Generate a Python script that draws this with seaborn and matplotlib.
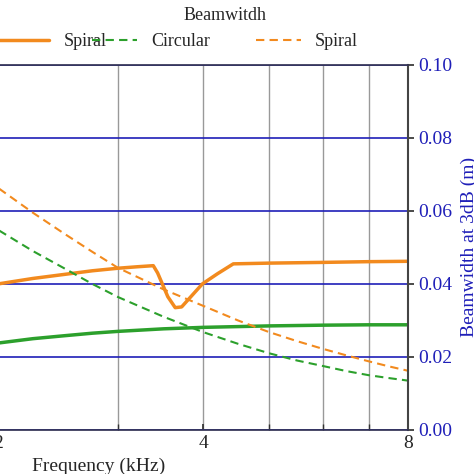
import numpy as np
import pandas as pd
import matplotlib
matplotlib.use("Agg")
import matplotlib.pyplot as plt
from matplotlib.lines import Line2D
from matplotlib.ticker import FixedLocator, NullFormatter
import seaborn as sns

sns.set_theme(style="white")
plt.rcParams['font.family'] = ['Liberation Serif', 'DejaVu Serif']

# range curves (shown in beamwidth-axis units)
range_spiral_f = [2.0, 2.25, 2.5, 2.75, 3.0, 3.2, 3.38, 3.43, 3.55, 3.64, 3.72, 3.99, 4.2, 4.43, 5.0, 6.0, 7.0, 8.0]
range_spiral_v = [0.040, 0.0415, 0.0426, 0.0436, 0.0443, 0.0447, 0.0450, 0.0430, 0.0365, 0.0335, 0.0337, 0.0400, 0.0428, 0.0455, 0.0457, 0.0459, 0.0461, 0.0462]
range_circ_f = [2.0, 2.25, 2.5, 2.75, 3.0, 3.5, 4.0, 5.0, 6.0, 7.0, 8.0]
range_circ_v = [0.0238, 0.0250, 0.0258, 0.0265, 0.0270, 0.0277, 0.0281, 0.0285, 0.0287, 0.0288, 0.0288]

# beamwidth curves
bw_f = [2.0, 2.25, 2.5, 2.75, 3.0, 3.5, 4.0, 4.5, 5.0, 5.5, 6.0, 6.5, 7.0, 7.5, 8.0]
bw_circ = [0.0548, 0.0490, 0.0443, 0.0400, 0.0364, 0.0310, 0.0268, 0.0236, 0.0210, 0.0190, 0.0175, 0.0161, 0.0150, 0.0142, 0.0135]
bw_spiral = [0.0663, 0.0595, 0.0538, 0.0488, 0.0444, 0.0385, 0.0340, 0.0300, 0.0268, 0.0243, 0.0222, 0.0204, 0.0188, 0.0174, 0.0162]

orange = "#f28a1e"
green = "#2ca02c"
blue = "#1f1fb8"

fig = plt.figure(figsize=(4.74, 4.74), dpi=100)
ax = fig.add_axes([-0.004, 0.093, 0.865, 0.77])

sns.lineplot(x=range_circ_f, y=range_circ_v, ax=ax, color=green, lw=2.5)
sns.lineplot(x=range_spiral_f, y=range_spiral_v, ax=ax, color=orange, lw=2.5)
sns.lineplot(x=bw_f, y=bw_circ, ax=ax, color=green, lw=1.5, linestyle=(0, (4, 2.5)))
sns.lineplot(x=bw_f, y=bw_spiral, ax=ax, color=orange, lw=1.5, linestyle=(0, (4, 2.5)))

ax.set_xscale("log", base=2)
ax.set_xlim(2, 8)
ax.set_ylim(0, 0.10)
ax.xaxis.set_major_locator(FixedLocator([2, 4, 8]))
ax.xaxis.set_minor_locator(FixedLocator([3, 5, 6, 7]))
ax.xaxis.set_minor_formatter(NullFormatter())
ax.set_xticklabels(["2", "4", "8"], fontsize=14)
ax.tick_params(axis="x", which="both", direction="in", length=4, bottom=True, color="#333")
ax.grid(axis="x", which="both", color="#999999", lw=1)
ax.set_xlabel("Frequency (kHz)", fontsize=14)
ax.xaxis.set_label_coords(0.245, -0.075)

ax.yaxis.tick_right()
ax.yaxis.set_label_position("right")
ax.set_yticks(np.arange(0, 0.101, 0.02))
ax.set_yticklabels([f"{v:.2f}" for v in np.arange(0, 0.101, 0.02)], fontsize=14, color=blue)
ax.tick_params(axis="y", direction="out", length=4, right=True, color="#333")
ax.grid(axis="y", color=blue, lw=1.2)
ax.set_ylabel("Beamwidth at 3dB (m)", fontsize=14, color=blue, labelpad=6)
for s in ["top", "bottom"]:
    ax.spines[s].set_color("#333355")
ax.spines["right"].set_color("#444444")
ax.spines["right"].set_linewidth(1.5)
ax.spines["left"].set_visible(False)

h_range = [Line2D([], [], color=green, lw=2.5), Line2D([], [], color=orange, lw=2.5)]
fig.legend(h_range, ["Circular", "Spiral"], title="Range", ncol=2, frameon=False,
           loc="center", bbox_to_anchor=(-0.075, 0.94), fontsize=13, title_fontsize=13,
           handlelength=3.5, columnspacing=1.5)
h_bw = [Line2D([], [], color=green, lw=1.5, linestyle=(0, (4, 2.5))),
        Line2D([], [], color=orange, lw=1.5, linestyle=(0, (4, 2.5)))]
fig.legend(h_bw, ["Circular", "Spiral"], title="Beamwitdh", ncol=2, frameon=False,
           loc="center", bbox_to_anchor=(0.475, 0.94), fontsize=13, title_fontsize=13,
           handlelength=2.5, columnspacing=2.5)

fig.savefig("out.png", dpi=100)
